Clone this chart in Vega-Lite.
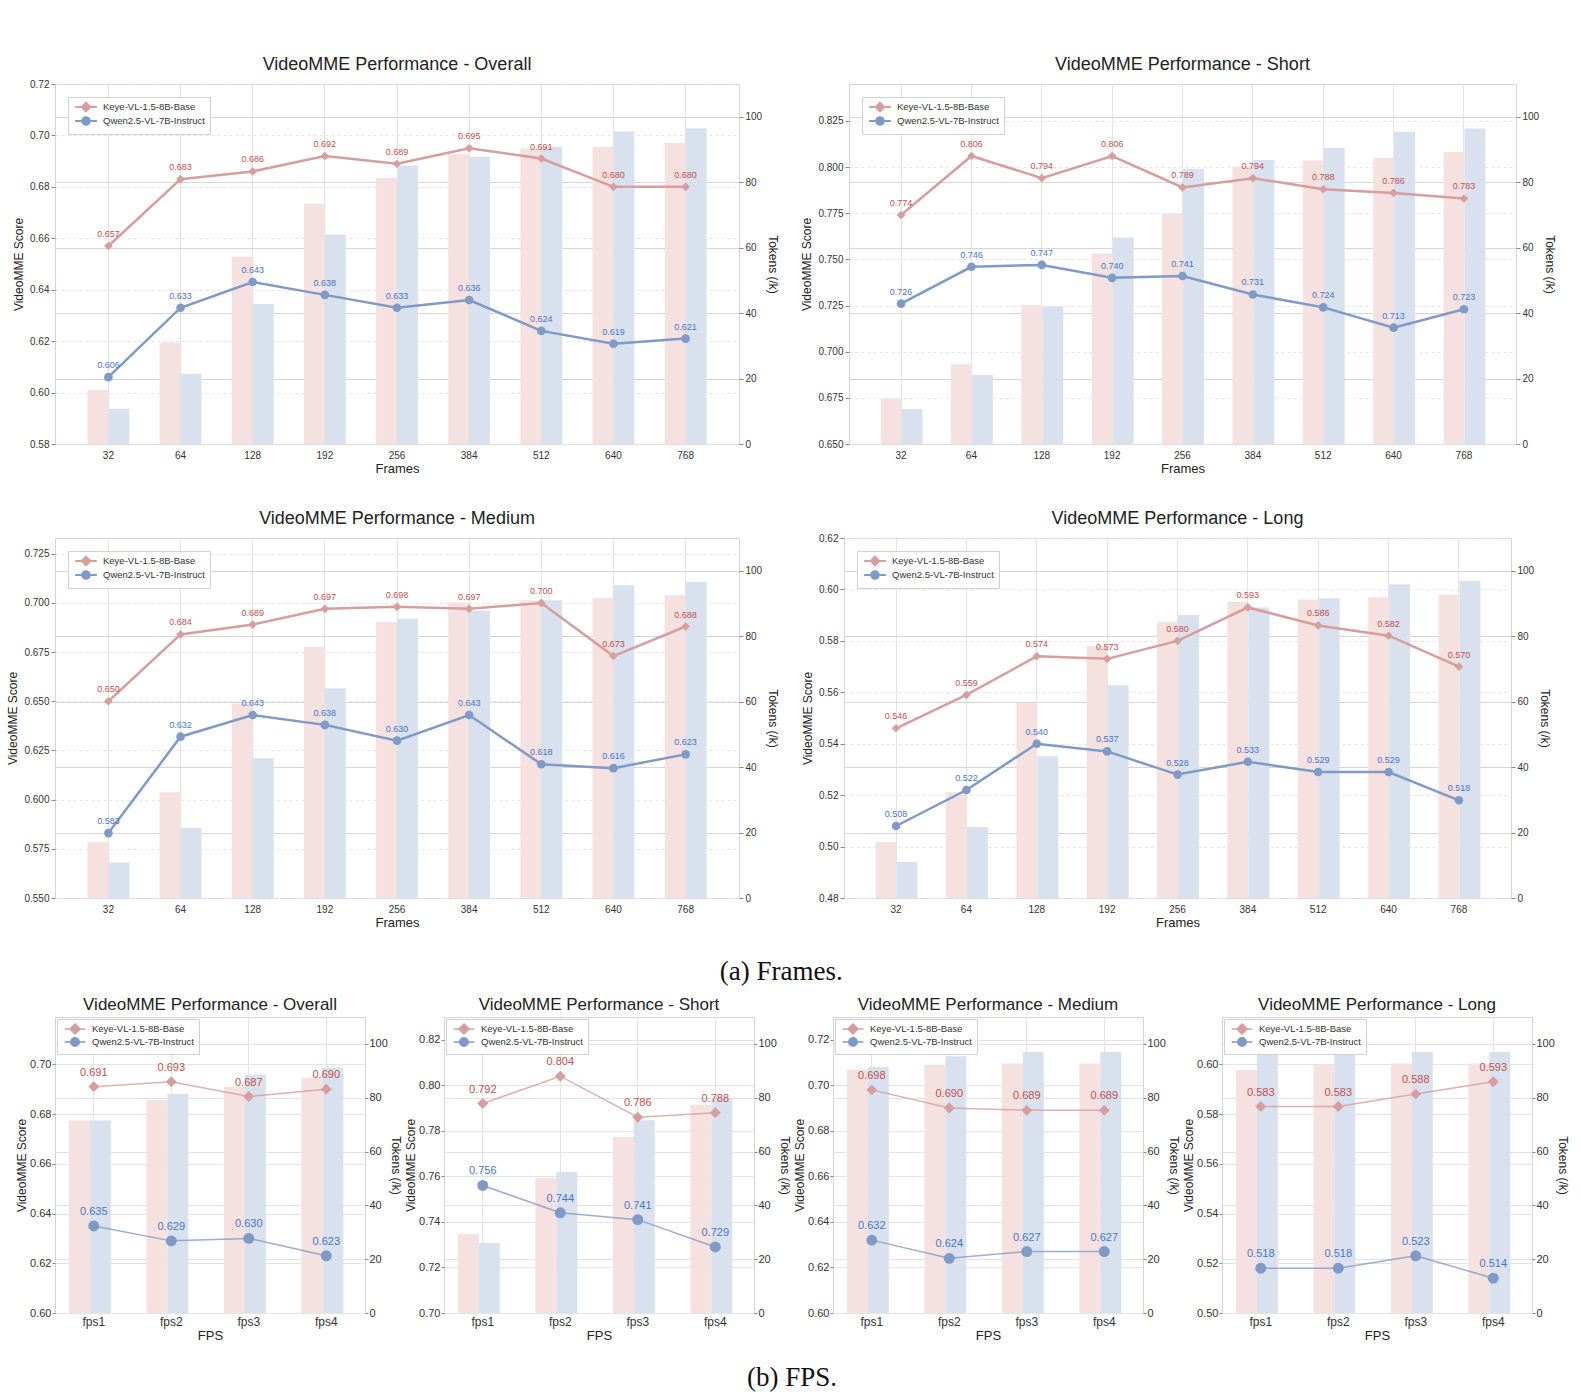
{
"$schema": "https://vega.github.io/schema/vega-lite/v6.json",
"padding": {"top": 55, "left": 6, "right": 5, "bottom": 5},
"background": "white",
"datasets": {
"frames": [
{"panel":"Overall","frames":32,"model":"Keye-VL-1.5-8B-Base","score":0.657,"tokens":16.5},
{"panel":"Overall","frames":64,"model":"Keye-VL-1.5-8B-Base","score":0.683,"tokens":31.0},
{"panel":"Overall","frames":128,"model":"Keye-VL-1.5-8B-Base","score":0.686,"tokens":57.2},
{"panel":"Overall","frames":192,"model":"Keye-VL-1.5-8B-Base","score":0.692,"tokens":73.4},
{"panel":"Overall","frames":256,"model":"Keye-VL-1.5-8B-Base","score":0.689,"tokens":81.3},
{"panel":"Overall","frames":384,"model":"Keye-VL-1.5-8B-Base","score":0.695,"tokens":88.5},
{"panel":"Overall","frames":512,"model":"Keye-VL-1.5-8B-Base","score":0.691,"tokens":90.3},
{"panel":"Overall","frames":640,"model":"Keye-VL-1.5-8B-Base","score":0.680,"tokens":90.8},
{"panel":"Overall","frames":768,"model":"Keye-VL-1.5-8B-Base","score":0.680,"tokens":92.0},
{"panel":"Overall","frames":32,"model":"Qwen2.5-VL-7B-Instruct","score":0.606,"tokens":10.8},
{"panel":"Overall","frames":64,"model":"Qwen2.5-VL-7B-Instruct","score":0.633,"tokens":21.5},
{"panel":"Overall","frames":128,"model":"Qwen2.5-VL-7B-Instruct","score":0.643,"tokens":42.8},
{"panel":"Overall","frames":192,"model":"Qwen2.5-VL-7B-Instruct","score":0.638,"tokens":64.0},
{"panel":"Overall","frames":256,"model":"Qwen2.5-VL-7B-Instruct","score":0.633,"tokens":85.1},
{"panel":"Overall","frames":384,"model":"Qwen2.5-VL-7B-Instruct","score":0.636,"tokens":87.7},
{"panel":"Overall","frames":512,"model":"Qwen2.5-VL-7B-Instruct","score":0.624,"tokens":90.8},
{"panel":"Overall","frames":640,"model":"Qwen2.5-VL-7B-Instruct","score":0.619,"tokens":95.5},
{"panel":"Overall","frames":768,"model":"Qwen2.5-VL-7B-Instruct","score":0.621,"tokens":96.5},
{"panel":"Short","frames":32,"model":"Keye-VL-1.5-8B-Base","score":0.774,"tokens":14.0},
{"panel":"Short","frames":64,"model":"Keye-VL-1.5-8B-Base","score":0.806,"tokens":24.4},
{"panel":"Short","frames":128,"model":"Keye-VL-1.5-8B-Base","score":0.794,"tokens":42.5},
{"panel":"Short","frames":192,"model":"Keye-VL-1.5-8B-Base","score":0.806,"tokens":58.2},
{"panel":"Short","frames":256,"model":"Keye-VL-1.5-8B-Base","score":0.789,"tokens":70.5},
{"panel":"Short","frames":384,"model":"Keye-VL-1.5-8B-Base","score":0.794,"tokens":84.8},
{"panel":"Short","frames":512,"model":"Keye-VL-1.5-8B-Base","score":0.788,"tokens":86.6},
{"panel":"Short","frames":640,"model":"Keye-VL-1.5-8B-Base","score":0.786,"tokens":87.4},
{"panel":"Short","frames":768,"model":"Keye-VL-1.5-8B-Base","score":0.783,"tokens":89.2},
{"panel":"Short","frames":32,"model":"Qwen2.5-VL-7B-Instruct","score":0.726,"tokens":10.7},
{"panel":"Short","frames":64,"model":"Qwen2.5-VL-7B-Instruct","score":0.746,"tokens":21.1},
{"panel":"Short","frames":128,"model":"Qwen2.5-VL-7B-Instruct","score":0.747,"tokens":42.1},
{"panel":"Short","frames":192,"model":"Qwen2.5-VL-7B-Instruct","score":0.740,"tokens":63.1},
{"panel":"Short","frames":256,"model":"Qwen2.5-VL-7B-Instruct","score":0.741,"tokens":84.0},
{"panel":"Short","frames":384,"model":"Qwen2.5-VL-7B-Instruct","score":0.731,"tokens":86.8},
{"panel":"Short","frames":512,"model":"Qwen2.5-VL-7B-Instruct","score":0.724,"tokens":90.5},
{"panel":"Short","frames":640,"model":"Qwen2.5-VL-7B-Instruct","score":0.713,"tokens":95.4},
{"panel":"Short","frames":768,"model":"Qwen2.5-VL-7B-Instruct","score":0.723,"tokens":96.4},
{"panel":"Medium","frames":32,"model":"Keye-VL-1.5-8B-Base","score":0.650,"tokens":17.0},
{"panel":"Medium","frames":64,"model":"Keye-VL-1.5-8B-Base","score":0.684,"tokens":32.3},
{"panel":"Medium","frames":128,"model":"Keye-VL-1.5-8B-Base","score":0.689,"tokens":59.4},
{"panel":"Medium","frames":192,"model":"Keye-VL-1.5-8B-Base","score":0.697,"tokens":76.8},
{"panel":"Medium","frames":256,"model":"Keye-VL-1.5-8B-Base","score":0.698,"tokens":84.3},
{"panel":"Medium","frames":384,"model":"Keye-VL-1.5-8B-Base","score":0.697,"tokens":90.3},
{"panel":"Medium","frames":512,"model":"Keye-VL-1.5-8B-Base","score":0.700,"tokens":91.0},
{"panel":"Medium","frames":640,"model":"Keye-VL-1.5-8B-Base","score":0.673,"tokens":91.7},
{"panel":"Medium","frames":768,"model":"Keye-VL-1.5-8B-Base","score":0.688,"tokens":92.5},
{"panel":"Medium","frames":32,"model":"Qwen2.5-VL-7B-Instruct","score":0.583,"tokens":10.8},
{"panel":"Medium","frames":64,"model":"Qwen2.5-VL-7B-Instruct","score":0.632,"tokens":21.4},
{"panel":"Medium","frames":128,"model":"Qwen2.5-VL-7B-Instruct","score":0.643,"tokens":42.7},
{"panel":"Medium","frames":192,"model":"Qwen2.5-VL-7B-Instruct","score":0.638,"tokens":64.1},
{"panel":"Medium","frames":256,"model":"Qwen2.5-VL-7B-Instruct","score":0.630,"tokens":85.3},
{"panel":"Medium","frames":384,"model":"Qwen2.5-VL-7B-Instruct","score":0.643,"tokens":87.8},
{"panel":"Medium","frames":512,"model":"Qwen2.5-VL-7B-Instruct","score":0.618,"tokens":91.0},
{"panel":"Medium","frames":640,"model":"Qwen2.5-VL-7B-Instruct","score":0.616,"tokens":95.6},
{"panel":"Medium","frames":768,"model":"Qwen2.5-VL-7B-Instruct","score":0.623,"tokens":96.6},
{"panel":"Long","frames":32,"model":"Keye-VL-1.5-8B-Base","score":0.546,"tokens":17.1},
{"panel":"Long","frames":64,"model":"Keye-VL-1.5-8B-Base","score":0.559,"tokens":32.3},
{"panel":"Long","frames":128,"model":"Keye-VL-1.5-8B-Base","score":0.574,"tokens":59.6},
{"panel":"Long","frames":192,"model":"Keye-VL-1.5-8B-Base","score":0.573,"tokens":76.9},
{"panel":"Long","frames":256,"model":"Keye-VL-1.5-8B-Base","score":0.580,"tokens":84.4},
{"panel":"Long","frames":384,"model":"Keye-VL-1.5-8B-Base","score":0.593,"tokens":90.5},
{"panel":"Long","frames":512,"model":"Keye-VL-1.5-8B-Base","score":0.586,"tokens":91.2},
{"panel":"Long","frames":640,"model":"Keye-VL-1.5-8B-Base","score":0.582,"tokens":91.9},
{"panel":"Long","frames":768,"model":"Keye-VL-1.5-8B-Base","score":0.570,"tokens":92.7},
{"panel":"Long","frames":32,"model":"Qwen2.5-VL-7B-Instruct","score":0.508,"tokens":11.0},
{"panel":"Long","frames":64,"model":"Qwen2.5-VL-7B-Instruct","score":0.522,"tokens":21.7},
{"panel":"Long","frames":128,"model":"Qwen2.5-VL-7B-Instruct","score":0.540,"tokens":43.3},
{"panel":"Long","frames":192,"model":"Qwen2.5-VL-7B-Instruct","score":0.537,"tokens":65.0},
{"panel":"Long","frames":256,"model":"Qwen2.5-VL-7B-Instruct","score":0.528,"tokens":86.5},
{"panel":"Long","frames":384,"model":"Qwen2.5-VL-7B-Instruct","score":0.533,"tokens":88.8},
{"panel":"Long","frames":512,"model":"Qwen2.5-VL-7B-Instruct","score":0.529,"tokens":91.6},
{"panel":"Long","frames":640,"model":"Qwen2.5-VL-7B-Instruct","score":0.529,"tokens":95.9},
{"panel":"Long","frames":768,"model":"Qwen2.5-VL-7B-Instruct","score":0.518,"tokens":96.9}
],
"fps": [
{"panel":"Overall","fps":"fps1","model":"Keye-VL-1.5-8B-Base","score":0.691,"tokens":71.5},
{"panel":"Overall","fps":"fps2","model":"Keye-VL-1.5-8B-Base","score":0.693,"tokens":79.1},
{"panel":"Overall","fps":"fps3","model":"Keye-VL-1.5-8B-Base","score":0.687,"tokens":84.1},
{"panel":"Overall","fps":"fps4","model":"Keye-VL-1.5-8B-Base","score":0.690,"tokens":87.4},
{"panel":"Overall","fps":"fps1","model":"Qwen2.5-VL-7B-Instruct","score":0.635,"tokens":71.5},
{"panel":"Overall","fps":"fps2","model":"Qwen2.5-VL-7B-Instruct","score":0.629,"tokens":81.5},
{"panel":"Overall","fps":"fps3","model":"Qwen2.5-VL-7B-Instruct","score":0.630,"tokens":88.5},
{"panel":"Overall","fps":"fps4","model":"Qwen2.5-VL-7B-Instruct","score":0.623,"tokens":91.2},
{"panel":"Short","fps":"fps1","model":"Keye-VL-1.5-8B-Base","score":0.792,"tokens":29.4},
{"panel":"Short","fps":"fps2","model":"Keye-VL-1.5-8B-Base","score":0.804,"tokens":50.2},
{"panel":"Short","fps":"fps3","model":"Keye-VL-1.5-8B-Base","score":0.786,"tokens":65.4},
{"panel":"Short","fps":"fps4","model":"Keye-VL-1.5-8B-Base","score":0.788,"tokens":77.4},
{"panel":"Short","fps":"fps1","model":"Qwen2.5-VL-7B-Instruct","score":0.756,"tokens":26.0},
{"panel":"Short","fps":"fps2","model":"Qwen2.5-VL-7B-Instruct","score":0.744,"tokens":52.4},
{"panel":"Short","fps":"fps3","model":"Qwen2.5-VL-7B-Instruct","score":0.741,"tokens":71.6},
{"panel":"Short","fps":"fps4","model":"Qwen2.5-VL-7B-Instruct","score":0.729,"tokens":80.0},
{"panel":"Medium","fps":"fps1","model":"Keye-VL-1.5-8B-Base","score":0.698,"tokens":90.5},
{"panel":"Medium","fps":"fps2","model":"Keye-VL-1.5-8B-Base","score":0.690,"tokens":92.3},
{"panel":"Medium","fps":"fps3","model":"Keye-VL-1.5-8B-Base","score":0.689,"tokens":92.7},
{"panel":"Medium","fps":"fps4","model":"Keye-VL-1.5-8B-Base","score":0.689,"tokens":92.7},
{"panel":"Medium","fps":"fps1","model":"Qwen2.5-VL-7B-Instruct","score":0.632,"tokens":91.4},
{"panel":"Medium","fps":"fps2","model":"Qwen2.5-VL-7B-Instruct","score":0.624,"tokens":95.4},
{"panel":"Medium","fps":"fps3","model":"Qwen2.5-VL-7B-Instruct","score":0.627,"tokens":97.0},
{"panel":"Medium","fps":"fps4","model":"Qwen2.5-VL-7B-Instruct","score":0.627,"tokens":97.0},
{"panel":"Long","fps":"fps1","model":"Keye-VL-1.5-8B-Base","score":0.583,"tokens":90.3},
{"panel":"Long","fps":"fps2","model":"Keye-VL-1.5-8B-Base","score":0.583,"tokens":92.3},
{"panel":"Long","fps":"fps3","model":"Keye-VL-1.5-8B-Base","score":0.588,"tokens":92.7},
{"panel":"Long","fps":"fps4","model":"Keye-VL-1.5-8B-Base","score":0.593,"tokens":92.7},
{"panel":"Long","fps":"fps1","model":"Qwen2.5-VL-7B-Instruct","score":0.518,"tokens":97.0},
{"panel":"Long","fps":"fps2","model":"Qwen2.5-VL-7B-Instruct","score":0.518,"tokens":97.0},
{"panel":"Long","fps":"fps3","model":"Qwen2.5-VL-7B-Instruct","score":0.523,"tokens":97.0},
{"panel":"Long","fps":"fps4","model":"Qwen2.5-VL-7B-Instruct","score":0.514,"tokens":97.0}
]
},
"align": "none",
"vconcat": [
{
"title": {"text": "(a) Frames.", "orient": "bottom", "anchor": "middle", "font": "Liberation Serif", "fontSize": 27, "fontWeight": "normal", "color": "#111", "offset": 29},
"spacing": 33,
"align": "none",
"resolve": {"scale": {"color": "independent", "shape": "independent"}, "legend": {"color": "independent", "shape": "independent"}},
"vconcat": [
{
"hconcat": [
{
"width": 684, "height": 360,
"title": {"text": "VideoMME Performance - Overall", "fontSize": 18, "offset": 5},
"data": {"name": "frames"},
"transform": [{"filter": "datum.panel === 'Overall'"}],
"layer": [
{"mark": {"type": "bar"},
"encoding": {
"x": {"field": "frames", "type": "ordinal", "scale": {"paddingInner": 0.42, "paddingOuter": 0.45}, "axis": {"title": "Frames", "labelAngle": 0, "ticks": false, "grid": true, "labelPadding": 6, "titleFontSize": 13, "titlePadding": 2}},
"xOffset": {"field": "model", "type": "nominal"},
"y": {"field": "tokens", "type": "quantitative", "scale": {"domain": [0, 110], "nice": false}, "axis": {"orient": "right", "title": "Tokens (/k)", "values": [0,20,40,60,80,100], "grid": true, "gridColor": "#d6d6d6"}},
"fill": {"field": "model", "type": "nominal", "scale": {"range": ["#F4E1E0", "#D8E1ED"]}, "legend": null}}},
{"encoding": {
"x": {"field": "frames", "type": "ordinal"},
"y": {"field": "score", "type": "quantitative", "scale": {"domain": [0.58, 0.72], "nice": false, "zero": false}, "axis": {"orient": "left", "title": "VideoMME Score", "values": [0.58,0.6,0.62,0.64,0.66,0.68,0.7,0.72], "format": ".2f", "grid": true, "gridDash": [3,3]}}},
"layer": [
{"mark": {"type": "line", "strokeWidth": 2.5}, "encoding": {"color": {"field": "model", "type": "nominal", "legend": {"title": null, "encoding": {"symbols": {"shape": {"condition": {"test": "datum.value === 'Keye-VL-1.5-8B-Base'", "value": "M-2.8,0H2.8M0,-1.15L1.15,0L0,1.15L-1.15,0Z"}, "value": "M-2.8,0H2.8M1,0A1,1,0,1,1,-1,0A1,1,0,1,1,1,0Z"}, "stroke": {"condition": {"test": "datum.value === 'Keye-VL-1.5-8B-Base'", "value": "#D69E9E"}, "value": "#7F9AC6"}, "strokeWidth": {"value": 1.8}}}}}}},
{"mark": {"type": "point", "filled": true, "opacity": 1, "size": 75}, "encoding": {"color": {"field": "model", "type": "nominal", "legend": {"title": null, "encoding": {"symbols": {"shape": {"condition": {"test": "datum.value === 'Keye-VL-1.5-8B-Base'", "value": "M-2.8,0H2.8M0,-1.15L1.15,0L0,1.15L-1.15,0Z"}, "value": "M-2.8,0H2.8M1,0A1,1,0,1,1,-1,0A1,1,0,1,1,1,0Z"}, "stroke": {"condition": {"test": "datum.value === 'Keye-VL-1.5-8B-Base'", "value": "#D69E9E"}, "value": "#7F9AC6"}, "strokeWidth": {"value": 1.8}}}}}, "shape": {"field": "model", "type": "nominal", "legend": null}}},
{"mark": {"type": "text", "dy": -12, "fontSize": 9}, "encoding": {"text": {"field": "score", "type": "quantitative", "format": ".3f"}, "color": {"condition": {"test": "datum.model === 'Keye-VL-1.5-8B-Base'", "value": "#C4504E"}, "value": "#4A77C4"}}}
]}
],
"resolve": {"scale": {"y": "independent"}}
},
{
"width": 667, "height": 360,
"title": {"text": "VideoMME Performance - Short", "fontSize": 18, "offset": 10},
"data": {"name": "frames"},
"transform": [{"filter": "datum.panel === 'Short'"}],
"layer": [
{"mark": {"type": "bar"},
"encoding": {
"x": {"field": "frames", "type": "ordinal", "scale": {"paddingInner": 0.42, "paddingOuter": 0.45}, "axis": {"title": "Frames", "labelAngle": 0, "ticks": false, "grid": true, "labelPadding": 6, "titleFontSize": 13, "titlePadding": 2}},
"xOffset": {"field": "model", "type": "nominal"},
"y": {"field": "tokens", "type": "quantitative", "scale": {"domain": [0, 110], "nice": false}, "axis": {"orient": "right", "title": "Tokens (/k)", "values": [0,20,40,60,80,100], "grid": true, "gridColor": "#d6d6d6"}},
"fill": {"field": "model", "type": "nominal", "scale": {"range": ["#F4E1E0", "#D8E1ED"]}, "legend": null}}},
{"encoding": {
"x": {"field": "frames", "type": "ordinal"},
"y": {"field": "score", "type": "quantitative", "scale": {"domain": [0.65, 0.845], "nice": false, "zero": false}, "axis": {"orient": "left", "title": "VideoMME Score", "values": [0.65,0.675,0.7,0.725,0.75,0.775,0.8,0.825], "format": ".3f", "grid": true, "gridDash": [3,3]}}},
"layer": [
{"mark": {"type": "line", "strokeWidth": 2.5}, "encoding": {"color": {"field": "model", "type": "nominal", "legend": {"title": null, "encoding": {"symbols": {"shape": {"condition": {"test": "datum.value === 'Keye-VL-1.5-8B-Base'", "value": "M-2.8,0H2.8M0,-1.15L1.15,0L0,1.15L-1.15,0Z"}, "value": "M-2.8,0H2.8M1,0A1,1,0,1,1,-1,0A1,1,0,1,1,1,0Z"}, "stroke": {"condition": {"test": "datum.value === 'Keye-VL-1.5-8B-Base'", "value": "#D69E9E"}, "value": "#7F9AC6"}, "strokeWidth": {"value": 1.8}}}}}}},
{"mark": {"type": "point", "filled": true, "opacity": 1, "size": 75}, "encoding": {"color": {"field": "model", "type": "nominal", "legend": {"title": null, "encoding": {"symbols": {"shape": {"condition": {"test": "datum.value === 'Keye-VL-1.5-8B-Base'", "value": "M-2.8,0H2.8M0,-1.15L1.15,0L0,1.15L-1.15,0Z"}, "value": "M-2.8,0H2.8M1,0A1,1,0,1,1,-1,0A1,1,0,1,1,1,0Z"}, "stroke": {"condition": {"test": "datum.value === 'Keye-VL-1.5-8B-Base'", "value": "#D69E9E"}, "value": "#7F9AC6"}, "strokeWidth": {"value": 1.8}}}}}, "shape": {"field": "model", "type": "nominal", "legend": null}}},
{"mark": {"type": "text", "dy": -12, "fontSize": 9}, "encoding": {"text": {"field": "score", "type": "quantitative", "format": ".3f"}, "color": {"condition": {"test": "datum.model === 'Keye-VL-1.5-8B-Base'", "value": "#C4504E"}, "value": "#4A77C4"}}}
]}
],
"resolve": {"scale": {"y": "independent"}}
}
],
"spacing": 110,
"bounds": "flush",
"resolve": {"scale": {"color": "independent", "shape": "independent"}, "legend": {"color": "independent", "shape": "independent"}}
},
{
"hconcat": [
{
"width": 684, "height": 360,
"title": {"text": "VideoMME Performance - Medium", "fontSize": 18, "offset": 10},
"data": {"name": "frames"},
"transform": [{"filter": "datum.panel === 'Medium'"}],
"layer": [
{"mark": {"type": "bar"},
"encoding": {
"x": {"field": "frames", "type": "ordinal", "scale": {"paddingInner": 0.42, "paddingOuter": 0.45}, "axis": {"title": "Frames", "labelAngle": 0, "ticks": false, "grid": true, "labelPadding": 6, "titleFontSize": 13, "titlePadding": 2}},
"xOffset": {"field": "model", "type": "nominal"},
"y": {"field": "tokens", "type": "quantitative", "scale": {"domain": [0, 110], "nice": false}, "axis": {"orient": "right", "title": "Tokens (/k)", "values": [0,20,40,60,80,100], "grid": true, "gridColor": "#d6d6d6"}},
"fill": {"field": "model", "type": "nominal", "scale": {"range": ["#F4E1E0", "#D8E1ED"]}, "legend": null}}},
{"encoding": {
"x": {"field": "frames", "type": "ordinal"},
"y": {"field": "score", "type": "quantitative", "scale": {"domain": [0.55, 0.733], "nice": false, "zero": false}, "axis": {"orient": "left", "title": "VideoMME Score", "values": [0.55,0.575,0.6,0.625,0.65,0.675,0.7,0.725], "format": ".3f", "grid": true, "gridDash": [3,3]}}},
"layer": [
{"mark": {"type": "line", "strokeWidth": 2.5}, "encoding": {"color": {"field": "model", "type": "nominal", "legend": {"title": null, "encoding": {"symbols": {"shape": {"condition": {"test": "datum.value === 'Keye-VL-1.5-8B-Base'", "value": "M-2.8,0H2.8M0,-1.15L1.15,0L0,1.15L-1.15,0Z"}, "value": "M-2.8,0H2.8M1,0A1,1,0,1,1,-1,0A1,1,0,1,1,1,0Z"}, "stroke": {"condition": {"test": "datum.value === 'Keye-VL-1.5-8B-Base'", "value": "#D69E9E"}, "value": "#7F9AC6"}, "strokeWidth": {"value": 1.8}}}}}}},
{"mark": {"type": "point", "filled": true, "opacity": 1, "size": 75}, "encoding": {"color": {"field": "model", "type": "nominal", "legend": {"title": null, "encoding": {"symbols": {"shape": {"condition": {"test": "datum.value === 'Keye-VL-1.5-8B-Base'", "value": "M-2.8,0H2.8M0,-1.15L1.15,0L0,1.15L-1.15,0Z"}, "value": "M-2.8,0H2.8M1,0A1,1,0,1,1,-1,0A1,1,0,1,1,1,0Z"}, "stroke": {"condition": {"test": "datum.value === 'Keye-VL-1.5-8B-Base'", "value": "#D69E9E"}, "value": "#7F9AC6"}, "strokeWidth": {"value": 1.8}}}}}, "shape": {"field": "model", "type": "nominal", "legend": null}}},
{"mark": {"type": "text", "dy": -12, "fontSize": 9}, "encoding": {"text": {"field": "score", "type": "quantitative", "format": ".3f"}, "color": {"condition": {"test": "datum.model === 'Keye-VL-1.5-8B-Base'", "value": "#C4504E"}, "value": "#4A77C4"}}}
]}
],
"resolve": {"scale": {"y": "independent"}}
},
{
"width": 667, "height": 360,
"title": {"text": "VideoMME Performance - Long", "fontSize": 18, "offset": 5},
"data": {"name": "frames"},
"transform": [{"filter": "datum.panel === 'Long'"}],
"layer": [
{"mark": {"type": "bar"},
"encoding": {
"x": {"field": "frames", "type": "ordinal", "scale": {"paddingInner": 0.42, "paddingOuter": 0.45}, "axis": {"title": "Frames", "labelAngle": 0, "ticks": false, "grid": true, "labelPadding": 6, "titleFontSize": 13, "titlePadding": 2}},
"xOffset": {"field": "model", "type": "nominal"},
"y": {"field": "tokens", "type": "quantitative", "scale": {"domain": [0, 110], "nice": false}, "axis": {"orient": "right", "title": "Tokens (/k)", "values": [0,20,40,60,80,100], "grid": true, "gridColor": "#d6d6d6"}},
"fill": {"field": "model", "type": "nominal", "scale": {"range": ["#F4E1E0", "#D8E1ED"]}, "legend": null}}},
{"encoding": {
"x": {"field": "frames", "type": "ordinal"},
"y": {"field": "score", "type": "quantitative", "scale": {"domain": [0.48, 0.62], "nice": false, "zero": false}, "axis": {"orient": "left", "title": "VideoMME Score", "values": [0.48,0.5,0.52,0.54,0.56,0.58,0.6,0.62], "format": ".2f", "grid": true, "gridDash": [3,3]}}},
"layer": [
{"mark": {"type": "line", "strokeWidth": 2.5}, "encoding": {"color": {"field": "model", "type": "nominal", "legend": {"title": null, "encoding": {"symbols": {"shape": {"condition": {"test": "datum.value === 'Keye-VL-1.5-8B-Base'", "value": "M-2.8,0H2.8M0,-1.15L1.15,0L0,1.15L-1.15,0Z"}, "value": "M-2.8,0H2.8M1,0A1,1,0,1,1,-1,0A1,1,0,1,1,1,0Z"}, "stroke": {"condition": {"test": "datum.value === 'Keye-VL-1.5-8B-Base'", "value": "#D69E9E"}, "value": "#7F9AC6"}, "strokeWidth": {"value": 1.8}}}}}}},
{"mark": {"type": "point", "filled": true, "opacity": 1, "size": 75}, "encoding": {"color": {"field": "model", "type": "nominal", "legend": {"title": null, "encoding": {"symbols": {"shape": {"condition": {"test": "datum.value === 'Keye-VL-1.5-8B-Base'", "value": "M-2.8,0H2.8M0,-1.15L1.15,0L0,1.15L-1.15,0Z"}, "value": "M-2.8,0H2.8M1,0A1,1,0,1,1,-1,0A1,1,0,1,1,1,0Z"}, "stroke": {"condition": {"test": "datum.value === 'Keye-VL-1.5-8B-Base'", "value": "#D69E9E"}, "value": "#7F9AC6"}, "strokeWidth": {"value": 1.8}}}}}, "shape": {"field": "model", "type": "nominal", "legend": null}}},
{"mark": {"type": "text", "dy": -12, "fontSize": 9}, "encoding": {"text": {"field": "score", "type": "quantitative", "format": ".3f"}, "color": {"condition": {"test": "datum.model === 'Keye-VL-1.5-8B-Base'", "value": "#C4504E"}, "value": "#4A77C4"}}}
]}
],
"resolve": {"scale": {"y": "independent"}}
}
],
"spacing": 105,
"bounds": "flush",
"resolve": {"scale": {"color": "independent", "shape": "independent"}, "legend": {"color": "independent", "shape": "independent"}}
}
]
},
{
"title": {"text": "(b) FPS.", "orient": "bottom", "anchor": "middle", "font": "Liberation Serif", "fontSize": 27, "fontWeight": "normal", "color": "#111", "offset": 22},
"hconcat": [
{
"width": 310, "height": 296,
"title": {"text": "VideoMME Performance - Overall", "fontSize": 17, "offset": 3},
"data": {"name": "fps"},
"transform": [{"filter": "datum.panel === 'Overall'"}],
"layer": [
{"mark": {"type": "bar"},
"encoding": {
"x": {"field": "fps", "type": "nominal", "scale": {"paddingInner": 0.36, "paddingOuter": 0.18}, "axis": {"title": "FPS", "labelAngle": 0, "ticks": false, "grid": true, "labelPadding": 3, "labelFontSize": 12, "titleFontSize": 13, "titlePadding": 2}},
"xOffset": {"field": "model", "type": "nominal"},
"y": {"field": "tokens", "type": "quantitative", "scale": {"domain": [0, 110], "nice": false}, "axis": {"orient": "right", "title": "Tokens (/k)", "values": [0,20,40,60,80,100], "grid": true, "gridColor": "#e2e2e2", "labelFontSize": 11, "titleFontSize": 12, "titlePadding": 1, "labelPadding": 1, "tickSize": 3}},
"fill": {"field": "model", "type": "nominal", "scale": {"range": ["#F4E1E0", "#D8E1ED"]}, "legend": null}}},
{"encoding": {
"x": {"field": "fps", "type": "nominal"},
"y": {"field": "score", "type": "quantitative", "scale": {"domain": [0.6, 0.719], "nice": false, "zero": false}, "axis": {"orient": "left", "title": "VideoMME Score", "values": [0.6,0.62,0.64,0.66,0.68,0.7], "format": ".2f", "grid": true, "labelFontSize": 11, "titleFontSize": 12, "titlePadding": 1, "labelPadding": 1, "tickSize": 3}}},
"layer": [
{"mark": {"type": "line", "strokeWidth": 1.5, "opacity": 0.8}, "encoding": {"color": {"field": "model", "type": "nominal", "legend": {"title": null, "labelFontSize": 9.5, "symbolSize": 75, "offset": 2, "encoding": {"symbols": {"shape": {"condition": {"test": "datum.value === 'Keye-VL-1.5-8B-Base'", "value": "M-2.4,0H2.4M0,-1.2L1.2,0L0,1.2L-1.2,0Z"}, "value": "M-2.4,0H2.4M1,0A1,1,0,1,1,-1,0A1,1,0,1,1,1,0Z"}, "stroke": {"condition": {"test": "datum.value === 'Keye-VL-1.5-8B-Base'", "value": "#D69E9E"}, "value": "#7F9AC6"}, "strokeWidth": {"value": 1.3}}}}}}},
{"mark": {"type": "point", "filled": true, "opacity": 1, "size": 120}, "encoding": {"color": {"field": "model", "type": "nominal", "legend": {"title": null, "labelFontSize": 9.5, "symbolSize": 75, "offset": 2, "encoding": {"symbols": {"shape": {"condition": {"test": "datum.value === 'Keye-VL-1.5-8B-Base'", "value": "M-2.4,0H2.4M0,-1.2L1.2,0L0,1.2L-1.2,0Z"}, "value": "M-2.4,0H2.4M1,0A1,1,0,1,1,-1,0A1,1,0,1,1,1,0Z"}, "stroke": {"condition": {"test": "datum.value === 'Keye-VL-1.5-8B-Base'", "value": "#D69E9E"}, "value": "#7F9AC6"}, "strokeWidth": {"value": 1.3}}}}}, "shape": {"field": "model", "type": "nominal", "legend": null}}},
{"mark": {"type": "text", "dy": -14, "fontSize": 11}, "encoding": {"text": {"field": "score", "type": "quantitative", "format": ".3f"}, "color": {"condition": {"test": "datum.model === 'Keye-VL-1.5-8B-Base'", "value": "#C4504E"}, "value": "#4A77C4"}}}
]}
],
"resolve": {"scale": {"y": "independent"}}
},
{
"width": 310, "height": 296,
"title": {"text": "VideoMME Performance - Short", "fontSize": 17, "offset": 3},
"data": {"name": "fps"},
"transform": [{"filter": "datum.panel === 'Short'"}],
"layer": [
{"mark": {"type": "bar"},
"encoding": {
"x": {"field": "fps", "type": "nominal", "scale": {"paddingInner": 0.36, "paddingOuter": 0.18}, "axis": {"title": "FPS", "labelAngle": 0, "ticks": false, "grid": true, "labelPadding": 3, "labelFontSize": 12, "titleFontSize": 13, "titlePadding": 2}},
"xOffset": {"field": "model", "type": "nominal"},
"y": {"field": "tokens", "type": "quantitative", "scale": {"domain": [0, 110], "nice": false}, "axis": {"orient": "right", "title": "Tokens (/k)", "values": [0,20,40,60,80,100], "grid": true, "gridColor": "#e2e2e2", "labelFontSize": 11, "titleFontSize": 12, "titlePadding": 1, "labelPadding": 1, "tickSize": 3}},
"fill": {"field": "model", "type": "nominal", "scale": {"range": ["#F4E1E0", "#D8E1ED"]}, "legend": null}}},
{"encoding": {
"x": {"field": "fps", "type": "nominal"},
"y": {"field": "score", "type": "quantitative", "scale": {"domain": [0.7, 0.83], "nice": false, "zero": false}, "axis": {"orient": "left", "title": "VideoMME Score", "values": [0.7,0.72,0.74,0.76,0.78,0.8,0.82], "format": ".2f", "grid": true, "labelFontSize": 11, "titleFontSize": 12, "titlePadding": 1, "labelPadding": 1, "tickSize": 3}}},
"layer": [
{"mark": {"type": "line", "strokeWidth": 1.5, "opacity": 0.8}, "encoding": {"color": {"field": "model", "type": "nominal", "legend": {"title": null, "labelFontSize": 9.5, "symbolSize": 75, "offset": 2, "encoding": {"symbols": {"shape": {"condition": {"test": "datum.value === 'Keye-VL-1.5-8B-Base'", "value": "M-2.4,0H2.4M0,-1.2L1.2,0L0,1.2L-1.2,0Z"}, "value": "M-2.4,0H2.4M1,0A1,1,0,1,1,-1,0A1,1,0,1,1,1,0Z"}, "stroke": {"condition": {"test": "datum.value === 'Keye-VL-1.5-8B-Base'", "value": "#D69E9E"}, "value": "#7F9AC6"}, "strokeWidth": {"value": 1.3}}}}}}},
{"mark": {"type": "point", "filled": true, "opacity": 1, "size": 120}, "encoding": {"color": {"field": "model", "type": "nominal", "legend": {"title": null, "labelFontSize": 9.5, "symbolSize": 75, "offset": 2, "encoding": {"symbols": {"shape": {"condition": {"test": "datum.value === 'Keye-VL-1.5-8B-Base'", "value": "M-2.4,0H2.4M0,-1.2L1.2,0L0,1.2L-1.2,0Z"}, "value": "M-2.4,0H2.4M1,0A1,1,0,1,1,-1,0A1,1,0,1,1,1,0Z"}, "stroke": {"condition": {"test": "datum.value === 'Keye-VL-1.5-8B-Base'", "value": "#D69E9E"}, "value": "#7F9AC6"}, "strokeWidth": {"value": 1.3}}}}}, "shape": {"field": "model", "type": "nominal", "legend": null}}},
{"mark": {"type": "text", "dy": -14, "fontSize": 11}, "encoding": {"text": {"field": "score", "type": "quantitative", "format": ".3f"}, "color": {"condition": {"test": "datum.model === 'Keye-VL-1.5-8B-Base'", "value": "#C4504E"}, "value": "#4A77C4"}}}
]}
],
"resolve": {"scale": {"y": "independent"}}
},
{
"width": 310, "height": 296,
"title": {"text": "VideoMME Performance - Medium", "fontSize": 17, "offset": 3},
"data": {"name": "fps"},
"transform": [{"filter": "datum.panel === 'Medium'"}],
"layer": [
{"mark": {"type": "bar"},
"encoding": {
"x": {"field": "fps", "type": "nominal", "scale": {"paddingInner": 0.36, "paddingOuter": 0.18}, "axis": {"title": "FPS", "labelAngle": 0, "ticks": false, "grid": true, "labelPadding": 3, "labelFontSize": 12, "titleFontSize": 13, "titlePadding": 2}},
"xOffset": {"field": "model", "type": "nominal"},
"y": {"field": "tokens", "type": "quantitative", "scale": {"domain": [0, 110], "nice": false}, "axis": {"orient": "right", "title": "Tokens (/k)", "values": [0,20,40,60,80,100], "grid": true, "gridColor": "#e2e2e2", "labelFontSize": 11, "titleFontSize": 12, "titlePadding": 1, "labelPadding": 1, "tickSize": 3}},
"fill": {"field": "model", "type": "nominal", "scale": {"range": ["#F4E1E0", "#D8E1ED"]}, "legend": null}}},
{"encoding": {
"x": {"field": "fps", "type": "nominal"},
"y": {"field": "score", "type": "quantitative", "scale": {"domain": [0.6, 0.73], "nice": false, "zero": false}, "axis": {"orient": "left", "title": "VideoMME Score", "values": [0.6,0.62,0.64,0.66,0.68,0.7,0.72], "format": ".2f", "grid": true, "labelFontSize": 11, "titleFontSize": 12, "titlePadding": 1, "labelPadding": 1, "tickSize": 3}}},
"layer": [
{"mark": {"type": "line", "strokeWidth": 1.5, "opacity": 0.8}, "encoding": {"color": {"field": "model", "type": "nominal", "legend": {"title": null, "labelFontSize": 9.5, "symbolSize": 75, "offset": 2, "encoding": {"symbols": {"shape": {"condition": {"test": "datum.value === 'Keye-VL-1.5-8B-Base'", "value": "M-2.4,0H2.4M0,-1.2L1.2,0L0,1.2L-1.2,0Z"}, "value": "M-2.4,0H2.4M1,0A1,1,0,1,1,-1,0A1,1,0,1,1,1,0Z"}, "stroke": {"condition": {"test": "datum.value === 'Keye-VL-1.5-8B-Base'", "value": "#D69E9E"}, "value": "#7F9AC6"}, "strokeWidth": {"value": 1.3}}}}}}},
{"mark": {"type": "point", "filled": true, "opacity": 1, "size": 120}, "encoding": {"color": {"field": "model", "type": "nominal", "legend": {"title": null, "labelFontSize": 9.5, "symbolSize": 75, "offset": 2, "encoding": {"symbols": {"shape": {"condition": {"test": "datum.value === 'Keye-VL-1.5-8B-Base'", "value": "M-2.4,0H2.4M0,-1.2L1.2,0L0,1.2L-1.2,0Z"}, "value": "M-2.4,0H2.4M1,0A1,1,0,1,1,-1,0A1,1,0,1,1,1,0Z"}, "stroke": {"condition": {"test": "datum.value === 'Keye-VL-1.5-8B-Base'", "value": "#D69E9E"}, "value": "#7F9AC6"}, "strokeWidth": {"value": 1.3}}}}}, "shape": {"field": "model", "type": "nominal", "legend": null}}},
{"mark": {"type": "text", "dy": -14, "fontSize": 11}, "encoding": {"text": {"field": "score", "type": "quantitative", "format": ".3f"}, "color": {"condition": {"test": "datum.model === 'Keye-VL-1.5-8B-Base'", "value": "#C4504E"}, "value": "#4A77C4"}}}
]}
],
"resolve": {"scale": {"y": "independent"}}
},
{
"width": 310, "height": 296,
"title": {"text": "VideoMME Performance - Long", "fontSize": 17, "offset": 3},
"data": {"name": "fps"},
"transform": [{"filter": "datum.panel === 'Long'"}],
"layer": [
{"mark": {"type": "bar"},
"encoding": {
"x": {"field": "fps", "type": "nominal", "scale": {"paddingInner": 0.36, "paddingOuter": 0.18}, "axis": {"title": "FPS", "labelAngle": 0, "ticks": false, "grid": true, "labelPadding": 3, "labelFontSize": 12, "titleFontSize": 13, "titlePadding": 2}},
"xOffset": {"field": "model", "type": "nominal"},
"y": {"field": "tokens", "type": "quantitative", "scale": {"domain": [0, 110], "nice": false}, "axis": {"orient": "right", "title": "Tokens (/k)", "values": [0,20,40,60,80,100], "grid": true, "gridColor": "#e2e2e2", "labelFontSize": 11, "titleFontSize": 12, "titlePadding": 1, "labelPadding": 1, "tickSize": 3}},
"fill": {"field": "model", "type": "nominal", "scale": {"range": ["#F4E1E0", "#D8E1ED"]}, "legend": null}}},
{"encoding": {
"x": {"field": "fps", "type": "nominal"},
"y": {"field": "score", "type": "quantitative", "scale": {"domain": [0.5, 0.619], "nice": false, "zero": false}, "axis": {"orient": "left", "title": "VideoMME Score", "values": [0.5,0.52,0.54,0.56,0.58,0.6], "format": ".2f", "grid": true, "labelFontSize": 11, "titleFontSize": 12, "titlePadding": 1, "labelPadding": 1, "tickSize": 3}}},
"layer": [
{"mark": {"type": "line", "strokeWidth": 1.5, "opacity": 0.8}, "encoding": {"color": {"field": "model", "type": "nominal", "legend": {"title": null, "labelFontSize": 9.5, "symbolSize": 75, "offset": 2, "encoding": {"symbols": {"shape": {"condition": {"test": "datum.value === 'Keye-VL-1.5-8B-Base'", "value": "M-2.4,0H2.4M0,-1.2L1.2,0L0,1.2L-1.2,0Z"}, "value": "M-2.4,0H2.4M1,0A1,1,0,1,1,-1,0A1,1,0,1,1,1,0Z"}, "stroke": {"condition": {"test": "datum.value === 'Keye-VL-1.5-8B-Base'", "value": "#D69E9E"}, "value": "#7F9AC6"}, "strokeWidth": {"value": 1.3}}}}}}},
{"mark": {"type": "point", "filled": true, "opacity": 1, "size": 120}, "encoding": {"color": {"field": "model", "type": "nominal", "legend": {"title": null, "labelFontSize": 9.5, "symbolSize": 75, "offset": 2, "encoding": {"symbols": {"shape": {"condition": {"test": "datum.value === 'Keye-VL-1.5-8B-Base'", "value": "M-2.4,0H2.4M0,-1.2L1.2,0L0,1.2L-1.2,0Z"}, "value": "M-2.4,0H2.4M1,0A1,1,0,1,1,-1,0A1,1,0,1,1,1,0Z"}, "stroke": {"condition": {"test": "datum.value === 'Keye-VL-1.5-8B-Base'", "value": "#D69E9E"}, "value": "#7F9AC6"}, "strokeWidth": {"value": 1.3}}}}}, "shape": {"field": "model", "type": "nominal", "legend": null}}},
{"mark": {"type": "text", "dy": -14, "fontSize": 11}, "encoding": {"text": {"field": "score", "type": "quantitative", "format": ".3f"}, "color": {"condition": {"test": "datum.model === 'Keye-VL-1.5-8B-Base'", "value": "#C4504E"}, "value": "#4A77C4"}}}
]}
],
"resolve": {"scale": {"y": "independent"}}
}
],
"spacing": 79,
"bounds": "flush",
"resolve": {"scale": {"color": "independent", "shape": "independent"}, "legend": {"color": "independent", "shape": "independent"}}
}
],
"spacing": 10,
"resolve": {"scale": {"color": "independent", "shape": "independent"}, "legend": {"color": "independent", "shape": "independent"}},
"config": {
"font": "Liberation Sans",
"view": {"stroke": "#d4d4d4"},
"range": {"category": ["#D69E9E", "#7F9AC6"], "symbol": ["diamond", "circle"]},
"axis": {"labelFontSize": 10, "titleFontSize": 12, "labelColor": "#333", "titleColor": "#222", "titleFontWeight": "normal", "gridColor": "#e4e4e4", "tickColor": "#888", "domain": false, "tickSize": 4, "labelPadding": 2},
"title": {"fontWeight": "normal", "color": "#222", "font": "Liberation Sans"},
"legend": {"orient": "top-left", "fillColor": "white", "strokeColor": "#d0d0d0", "padding": 5, "labelFontSize": 9.5, "symbolSize": 60, "offset": 13, "rowPadding": -3, "labelColor": "#333", "symbolOpacity": 1, "symbolOffset": 8, "labelOffset": 12}
}
}
